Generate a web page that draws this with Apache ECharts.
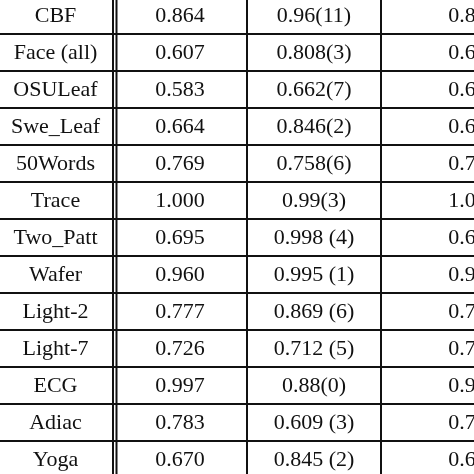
<!DOCTYPE html>
<html>
<head>
<meta charset="utf-8">
<script src="https://cdn.jsdelivr.net/npm/echarts@6/dist/echarts.min.js"></script>
<style>html,body{margin:0;padding:0;background:#fff}#main{width:474px;height:474px}</style>
</head>
<body>
<div id="main"></div>
<script>
// table content
var datasets = ['CBF','Face (all)','OSULeaf','Swe_Leaf','50Words','Trace','Two_Patt','Wafer','Light-2','Light-7','ECG','Adiac','Yoga'];
var col1 = ['0.864','0.607','0.583','0.664','0.769','1.000','0.695','0.960','0.777','0.726','0.997','0.783','0.670'];
var col2 = ['0.96(11)','0.808(3)','0.662(7)','0.846(2)','0.758(6)','0.99(3)','0.998 (4)','0.995 (1)','0.869 (6)','0.712 (5)','0.88(0)','0.609 (3)','0.845 (2)'];
var col3 = ['0.876','0.632','0.600','0.675','0.777','1.000','0.670','0.935','0.773','0.719','0.989','0.784','0.629'];

// layout
var colEdges = [-2, 113, 247, 381, 565];
var rowTop = -3, rowH = 37;

var columns = [datasets, col1, col2, col3];
var cells = [];
columns.forEach(function (col, j) {
    col.forEach(function (t, i) { cells.push([j, i, t]); });
});

var myChart = echarts.init(document.getElementById('main'));
var option = {
    animation: false,
    grid: {left: 0, right: 0, top: 0, bottom: 0},
    xAxis: {type: 'value', min: 0, max: 474, show: false},
    yAxis: {type: 'value', min: 0, max: 474, inverse: true, show: false},
    series: [{
        type: 'custom',
        data: cells,
        renderItem: function (params, api) {
            var j = api.value(0), i = api.value(1);
            var p0 = api.coord([colEdges[j], rowTop + i * rowH]);
            var p1 = api.coord([colEdges[j + 1], rowTop + (i + 1) * rowH]);
            var children = [{
                type: 'rect',
                shape: {x: p0[0], y: p0[1], width: p1[0] - p0[0], height: p1[1] - p0[1]},
                style: {fill: 'none', stroke: '#111', lineWidth: 2}
            }, {
                type: 'text',
                style: {
                    x: (p0[0] + p1[0]) / 2, y: (p0[1] + p1[1]) / 2 + 1,
                    text: cells[params.dataIndex][2],
                    font: '22px "Liberation Serif", "DejaVu Serif", serif',
                    fill: '#111', align: 'center', verticalAlign: 'middle'
                }
            }];
            if (j === 1) {
                // double rule after the name column
                children.push({
                    type: 'line',
                    shape: {x1: p0[0] + 3.5, y1: p0[1], x2: p0[0] + 3.5, y2: p1[1]},
                    style: {stroke: '#111', lineWidth: 2}
                });
            }
            return {type: 'group', children: children};
        }
    }]
};
myChart.setOption(option);
</script>
</body>
</html>
